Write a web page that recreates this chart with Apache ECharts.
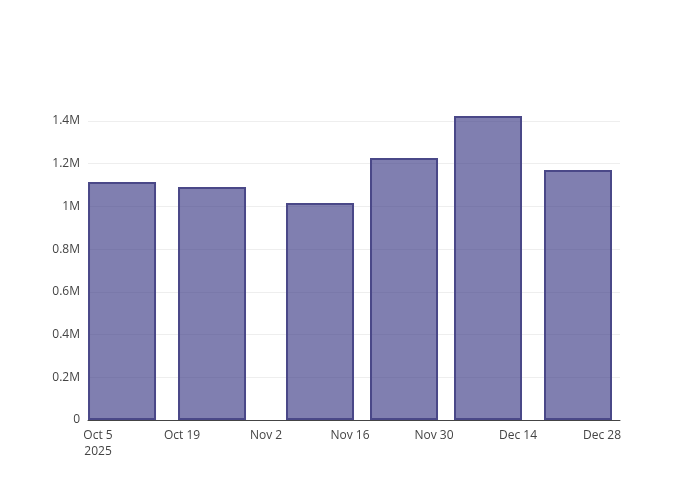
<!DOCTYPE html>
<html>
<head>
<meta charset="utf-8">
<script src="https://cdn.jsdelivr.net/npm/echarts@6/dist/echarts.min.js"></script>
<style>html,body{margin:0;padding:0;background:#fff}#chart{width:700px;height:500px}</style>
</head>
<body>
<div id="chart"></div>
<script>
// bar dates and values
var barDates = ['2025-10-09', '2025-10-24', '2025-11-11', '2025-11-25', '2025-12-09', '2025-12-24'];
var barValues = [1114000, 1091000, 1016000, 1227000, 1423000, 1170000];
var tickDates = ['2025-10-05', '2025-10-19', '2025-11-02', '2025-11-16', '2025-11-30', '2025-12-14', '2025-12-28'];
var monthNames = ['Jan','Feb','Mar','Apr','May','Jun','Jul','Aug','Sep','Oct','Nov','Dec'];

var DAY = 86400000;
var origin = new Date('2025-10-05T00:00:00Z').getTime();
// days since Oct 5 2025
function dayOf(s) { return Math.round((new Date(s + 'T00:00:00Z').getTime() - origin) / DAY); }

var chart = echarts.init(document.getElementById('chart'));
chart.setOption({
    animation: false,
    grid: { left: 88, right: 80, top: 121, bottom: 80 },
    xAxis: {
        type: 'value',
        min: -1.67,
        max: 87,
        axisLine: { lineStyle: { color: '#444', width: 1 } },
        axisTick: { show: false },
        splitLine: { show: false },
        axisLabel: {
            customValues: tickDates.map(dayOf),
            color: '#444',
            fontSize: 12,
            fontFamily: 'Open Sans',
            lineHeight: 16,
            formatter: function (v) {
                var d = new Date(origin + v * DAY);
                var s = monthNames[d.getUTCMonth()] + ' ' + d.getUTCDate();
                if (v === 0) s += '\n2025';
                return s;
            }
        }
    },
    yAxis: {
        type: 'value',
        min: 0,
        max: 1400000,
        interval: 200000,
        axisLine: { show: false },
        axisTick: { show: false },
        splitLine: { lineStyle: { color: '#eee' } },
        axisLabel: {
            color: '#444',
            fontSize: 12,
            fontFamily: 'Open Sans',
            formatter: function (v) { return v === 0 ? '0' : (v / 1e6) + 'M'; }
        }
    },
    series: [{
        type: 'bar',
        clip: false,
        barWidth: 68,
        data: barDates.map(function (d, i) { return [dayOf(d), barValues[i]]; }),
        itemStyle: {
            color: 'rgba(62,60,135,0.66)',
            borderColor: '#4a4888',
            borderWidth: 2
        }
    }]
});
</script>
</body>
</html>
